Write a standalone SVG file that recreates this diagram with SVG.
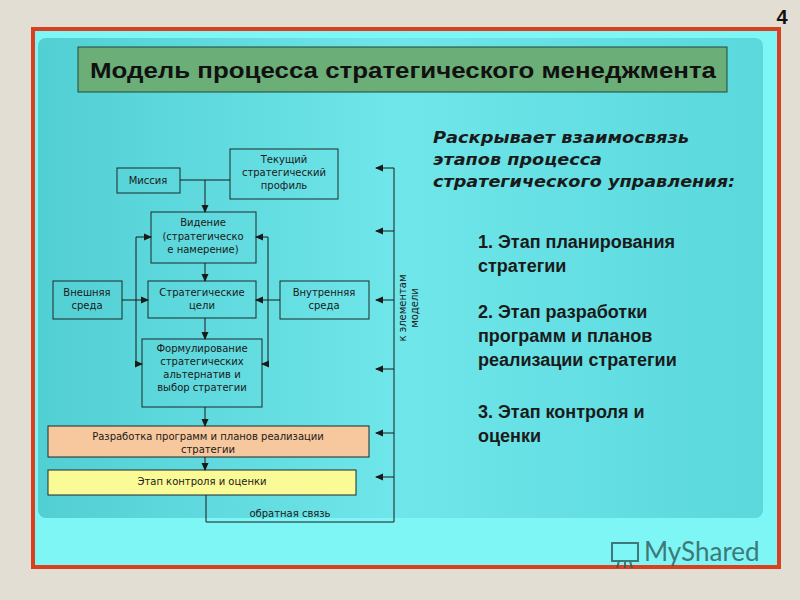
<svg xmlns="http://www.w3.org/2000/svg" width="800" height="600" viewBox="0 0 800 600">
<defs>
<marker id="ar" markerWidth="8" markerHeight="8" refX="7" refY="4" orient="auto" markerUnits="userSpaceOnUse"><path d="M0,0.5 L8,4 L0,7.5 z" fill="#1a1a1a"/></marker>
<linearGradient id="pg" x1="0" y1="0" x2="1" y2="0"><stop offset="0" stop-color="#52cfd3"/><stop offset="0.5" stop-color="#6fe6ea"/><stop offset="1" stop-color="#5ad8dc"/></linearGradient>
</defs>
<style>
.b{stroke:#1a2a2a;stroke-width:1;fill:none}
.t{font-family:"DejaVu Sans",sans-serif;font-size:10px;fill:#1a1a1a;text-anchor:middle}
.c{stroke:#1a1a1a;stroke-width:1;fill:none}
.r{font-family:"Liberation Sans",sans-serif;font-weight:bold;font-size:18px;fill:#1a1a1a}
</style>
<rect width="800" height="600" fill="#e3ded3"/>
<rect x="33" y="29" width="746" height="538" fill="#7ff6f6" stroke="#d8401f" stroke-width="4"/>
<rect x="38" y="38" width="725" height="480" rx="8" fill="url(#pg)"/>
<g id="title"><rect x="78" y="47" width="649" height="45" fill="#6cae78" stroke="#1c4a3a"/>
<text x="90" y="78" textLength="626" lengthAdjust="spacingAndGlyphs" font-family="Liberation Sans, sans-serif" font-weight="bold" font-size="22" fill="#111">Модель процесса стратегического менеджмента</text></g>
<text x="782" y="24" font-family="Liberation Sans,sans-serif" font-weight="bold" font-size="20" text-anchor="middle" fill="#111">4</text>
<g id="desc" font-family="DejaVu Sans,sans-serif" font-style="italic" font-weight="bold" font-size="16" fill="#1a1a1a">
<text x="433" y="143" textLength="256" lengthAdjust="spacingAndGlyphs">Раскрывает взаимосвязь</text><text x="433" y="165" textLength="169" lengthAdjust="spacingAndGlyphs">этапов процесса</text><text x="433" y="187" textLength="302" lengthAdjust="spacingAndGlyphs">стратегического управления:</text></g>
<g id="list" class="r"><text x="478" y="248">1. Этап планирования</text><text x="478" y="272">стратегии</text>
<text x="478" y="318">2. Этап разработки</text><text x="478" y="342">программ и планов</text><text x="478" y="366">реализации стратегии</text>
<text x="478" y="418">3. Этап контроля и</text><text x="478" y="442">оценки</text></g>
<g id="n-mission"><rect class="b" x="117" y="168" width="63" height="25"/><text class="t" x="148" y="184">Миссия</text></g>
<g id="n-profile"><rect class="b" x="230" y="149" width="108" height="50"/><text class="t" x="284" y="163">Текущий</text><text class="t" x="284" y="176">стратегический</text><text class="t" x="284" y="189">профиль</text></g>
<g id="n-vision"><rect class="b" x="151" y="212" width="105" height="51"/><text class="t" x="203" y="226">Видение</text><text class="t" x="203" y="240">(стратегическо</text><text class="t" x="203" y="253">е намерение)</text></g>
<g id="n-goals"><rect class="b" x="148" y="281" width="108" height="37"/><text class="t" x="202" y="296">Стратегические</text><text class="t" x="202" y="309">цели</text></g>
<g id="n-ext"><rect class="b" x="53" y="281" width="69" height="38"/><text class="t" x="87" y="296">Внешняя</text><text class="t" x="87" y="309">среда</text></g>
<g id="n-int"><rect class="b" x="280" y="281" width="89" height="38"/><text class="t" x="324" y="296">Внутренняя</text><text class="t" x="324" y="309">среда</text></g>
<g id="n-form"><rect class="b" x="142" y="339" width="120" height="68"/><text class="t" x="202" y="352">Формулирование</text><text class="t" x="202" y="365">стратегических</text><text class="t" x="202" y="378">альтернатив  и</text><text class="t" x="202" y="391">выбор  стратегии</text></g>
<g id="n-dev"><rect x="48" y="426" width="321" height="31" fill="#f7c79d" stroke="#1a2a2a"/><text class="t" x="208" y="440">Разработка  программ  и  планов  реализации</text><text class="t" x="208" y="453">стратегии</text></g>
<g id="n-ctrl"><rect x="48" y="470" width="308" height="25" fill="#fafa96" stroke="#1a2a2a"/><text class="t" x="202" y="485">Этап  контроля  и  оценки</text></g>
<g id="connectors">
<path class="c" d="M180,180 H230"/>
<path class="c" d="M205,180 V212" marker-end="url(#ar)"/>
<path class="c" d="M205,263 V281" marker-end="url(#ar)"/>
<path class="c" d="M205,318 V339" marker-end="url(#ar)"/>
<path class="c" d="M205,407 V426" marker-end="url(#ar)"/>
<path class="c" d="M205,457 V470" marker-end="url(#ar)"/>
<path class="c" d="M122,300 H148" marker-end="url(#ar)"/>
<path class="c" d="M280,300 H256" marker-end="url(#ar)"/>
<path class="c" d="M136,237 V364"/>
<path class="c" d="M136,237 H151" marker-end="url(#ar)"/>
<path class="c" d="M136,364 H142" marker-end="url(#ar)"/>
<path class="c" d="M268,237 V364"/>
<path class="c" d="M268,237 H256" marker-end="url(#ar)"/>
<path class="c" d="M268,364 H262" marker-end="url(#ar)"/>
<path class="c" d="M206,495 V522 H394 V168"/>
<path class="c" d="M394,168 H376" marker-end="url(#ar)"/>
<path class="c" d="M394,231 H376" marker-end="url(#ar)"/>
<path class="c" d="M394,300 H376" marker-end="url(#ar)"/>
<path class="c" d="M394,369 H376" marker-end="url(#ar)"/>
<path class="c" d="M394,433 H376" marker-end="url(#ar)"/>
<path class="c" d="M394,477 H376" marker-end="url(#ar)"/>
<text class="t" x="290" y="517">обратная  связь</text>
<text class="t" transform="translate(406,308) rotate(-90)">к элементам</text>
<text class="t" transform="translate(418,308) rotate(-90)">модели</text>
</g>
<text x="644" y="561" font-family="Lato,sans-serif" font-size="26" fill="#2e5a5a" opacity="0.8">MyShared</text>
<g fill="none" stroke="#2e5a5a" stroke-width="2" opacity="0.8"><rect x="612" y="543" width="26" height="18"/><path d="M617,568 L619,561 M632,568 L630,561 M625,568 V561"/></g>
</svg>
